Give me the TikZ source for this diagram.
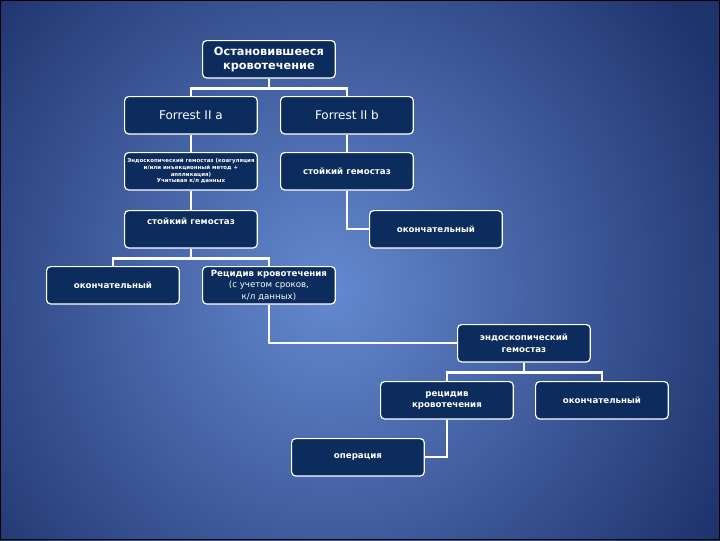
\documentclass[tikz,border=0pt]{standalone}
\usepackage{fontspec}
\setmainfont{DejaVu Sans}
\begin{document}
\begin{tikzpicture}[x=0.75pt,y=-0.75pt,
  box/.style={draw=white,line width=0.9pt,fill=boxblue,rounded corners=3pt,
    minimum width=99.5pt,minimum height=28pt,inner sep=1pt,align=center,text=white,
    font=\bfseries\fontsize{6.5}{8.5}\selectfont,anchor=north west},
  conn/.style={draw=white,line width=1.6pt,line join=miter}]
\definecolor{boxblue}{HTML}{0B2C5C}
\definecolor{bgin}{HTML}{6489D0}
\definecolor{bgout}{HTML}{1E326C}
\useasboundingbox (0,0) rectangle (720,540);
\shade[inner color=bgin,outer color=bgout] (-120,-180) rectangle (780,760);
\draw[black,line width=1pt] (0.5,0.5) rectangle (719.5,539.5);
% nodes
\node[box,font=\bfseries\fontsize{8.5}{10.5}\selectfont] (top) at (202,40) {Остановившееся\\кровотечение};
\node[box,font=\fontsize{9}{11}\selectfont] (fa) at (124,96) {Forrest II a};
\node[box,font=\fontsize{9}{11}\selectfont] (fb) at (280,96) {Forrest II b};
\node[box,font=\bfseries\fontsize{4.1}{5}\selectfont] (endo1) at (124,152) {Эндоскопический гемостаз (коагуляция\\и/или инъекционный метод +\\аппликация)\\Учитывая к/л данных};
\node[box] (st2) at (280,152) {стойкий гемостаз};
\node[box,text depth=12pt] (st1) at (124,210) {стойкий гемостаз};
\node[box] (ok1) at (369,210) {окончательный};
\node[box] (ok2) at (46,266) {окончательный};
\node[box,font=\fontsize{6.5}{8.5}\selectfont] (rec1) at (202,266) {\textbf{Рецидив кровотечения}\\(с учетом сроков,\\к/л данных)};
\node[box] (endo2) at (457,324) {эндоскопический\\гемостаз};
\node[box] (rec2) at (380,381) {рецидив\\кровотечения};
\node[box] (ok3) at (535,381) {окончательный};
\node[box] (op) at (291,438) {операция};
% connectors
\draw[conn] (top.south) -- ++(0,10) coordinate (b1);
\draw[conn] (fa.north) |- (b1) -| (fb.north);
\draw[conn] (fa.south) -- (endo1.north);
\draw[conn] (endo1.south) -- (st1.north);
\draw[conn] (fb.south) -- (st2.north);
\draw[conn] (st2.south) |- (ok1.west);
\draw[conn] (st1.south) -- ++(0,10) coordinate (b2);
\draw[conn] (ok2.north) |- (b2) -| (rec1.north);
\draw[conn] (rec1.south) |- (endo2.west);
\draw[conn] (endo2.south) -- ++(0,10) coordinate (b3);
\draw[conn] (rec2.north) |- (b3) -| (ok3.north);
\draw[conn] (rec2.south) |- (op.east);
\end{tikzpicture}
\end{document}
